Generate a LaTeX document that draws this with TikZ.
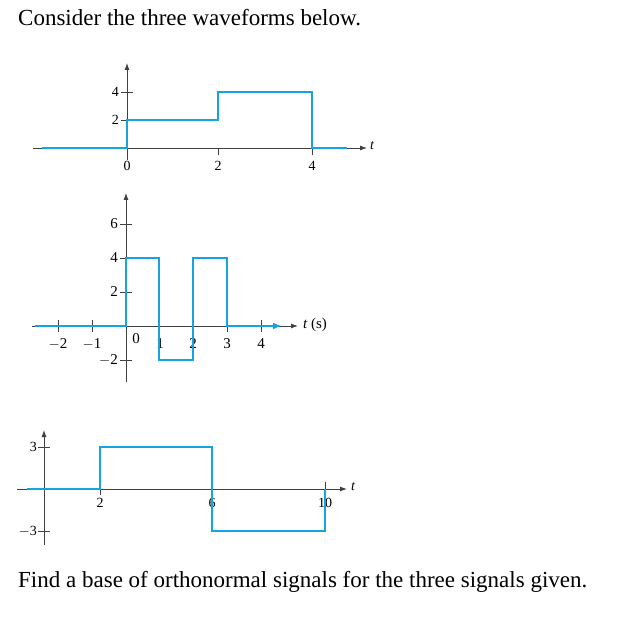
\documentclass[tikz,border=0pt]{standalone}
\usepackage{fontspec}
\setmainfont{Liberation Serif}
\usetikzlibrary{arrows.meta}
\definecolor{wave}{RGB}{20,165,225}
\begin{document}
\begin{tikzpicture}[x=1pt,y=-1pt,
  ax/.style={draw=black!75,line width=0.9pt},
  axa/.style={ax,-{Latex[length=7pt,width=5pt]}},
  sig/.style={draw=wave,line width=2.4pt},
  lbl/.style={font=\fontsize{14}{15}\selectfont,inner sep=1pt},
  txt/.style={font=\fontsize{23}{26}\selectfont,anchor=west,inner sep=0pt}]
\useasboundingbox (0,0) rectangle (625,623);
\node[txt] (q1) at (18,18) {Consider the three waveforms below.};
\node[txt] (q2) at (18,582) {Find a base of orthonormal signals for the three signals given.};
% plot 1
\draw[axa] (33,148) -- (367,148);
\draw[axa] (127,160) -- (127,63);
\node[lbl,anchor=west] (t1) at (369,146) {\itshape t};
\foreach \y/\l in {120/2,92/4}{\draw[ax] (121,\y) -- (133,\y); \node[lbl,anchor=east] at (120,\y) {\l};}
\foreach \x/\l in {127/0,218/2,312/4}{\draw[ax] (\x,148) -- (\x,155); \node[lbl] at (\x,166) {\l};}
\draw[sig] (42,148) -- (127,148) -- (127,120) -- (218,120) -- (218,92) -- (312,92) -- (312,148) -- (347,148);
% plot 2
\draw[axa] (32,326) -- (298,326);
\draw[ax] (126,382) -- (126,200);
\draw[axa] (126,230) -- (126,193);
\node[lbl,anchor=west] (t2) at (302,325) {\fontsize{15}{16}\selectfont\itshape t \upshape(s)};
\foreach \y/\l in {224/6,258/4,292/2,360/{$-$2}}{\draw[ax] (120,\y) -- (132,\y); \node[lbl,anchor=east] at (119,\y) {\fontsize{15}{16}\selectfont\l};}
\foreach \x in {58,92,159,193,227,261}{\draw[ax] (\x,320) -- (\x,332);}
\foreach \x/\l in {58/{$-$2},92/{$-$1},160/1,193/2,227/3,261/4}{\node[lbl] at (\x,344) {\fontsize{15}{16}\selectfont\l};}
\node[lbl] at (136,339) {\fontsize{15}{16}\selectfont 0};
\draw[sig,-{Latex[length=9pt,width=7pt]}] (35,326) -- (126,326) -- (126,258) -- (159,258) -- (159,360) -- (193,360) -- (193,258) -- (227,258) -- (227,326) -- (282,326);
% plot 3
\draw[axa] (17,489) -- (347,489);
\draw[axa] (44,545) -- (44,430);
\node[lbl,anchor=west] (t3) at (350,487) {\itshape t};
\foreach \y/\l in {447/3,531/{$-$3}}{\draw[ax] (38,\y) -- (50,\y); \node[lbl,anchor=east] at (38,\y) {\l};}
\foreach \x/\l in {100/2,212/6,325/10}{\draw[ax] (\x,482) -- (\x,495); \node[lbl] at (\x,503) {\l};}
\draw[sig] (27,489) -- (100,489) -- (100,447) -- (212,447) -- (212,531) -- (325,531) -- (325,489);
\end{tikzpicture}
\end{document}
